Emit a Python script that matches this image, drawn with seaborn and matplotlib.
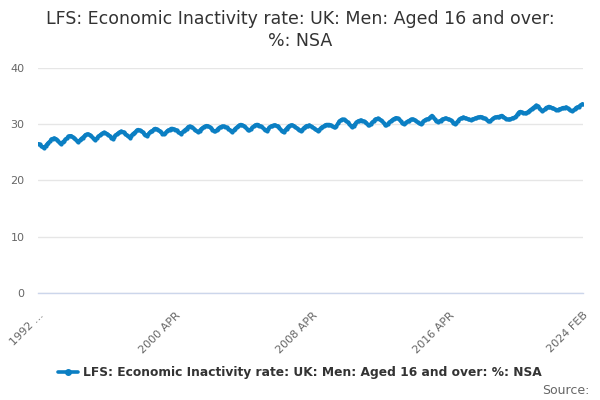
import pandas as pd
import matplotlib
matplotlib.use("Agg")
import matplotlib.pyplot as plt
from matplotlib.lines import Line2D
import seaborn as sns

title = "LFS: Economic Inactivity rate: UK: Men: Aged 16 and over:\n%: NSA"
series_name = "LFS: Economic Inactivity rate: UK: Men: Aged 16 and over: %: NSA"

# monthly values, 1992 APR .. 2024 FEB
rate_1992 = [26.5, 26.4, 26.1, 25.9, 25.8, 26.1, 26.4, 26.7, 26.9]  # APR-DEC
rate_1993 = [27.3, 27.4, 27.5, 27.4, 27.2, 26.9, 26.6, 26.5, 26.8, 27.0, 27.3, 27.5]
rate_1994 = [27.8, 27.9, 27.9, 27.7, 27.5, 27.3, 27.0, 26.8, 27.1, 27.4, 27.6, 27.8]
rate_1995 = [28.1, 28.2, 28.2, 28.1, 27.9, 27.6, 27.4, 27.2, 27.5, 27.8, 28.0, 28.2]
rate_1996 = [28.4, 28.5, 28.4, 28.3, 28.1, 27.9, 27.6, 27.4, 27.7, 28.0, 28.2, 28.4]
rate_1997 = [28.6, 28.7, 28.6, 28.5, 28.3, 28.0, 27.8, 27.6, 27.9, 28.2, 28.4, 28.6]
rate_1998 = [28.9, 29.0, 28.9, 28.8, 28.6, 28.3, 28.1, 27.9, 28.2, 28.5, 28.7, 28.8]
rate_1999 = [29.1, 29.2, 29.1, 28.9, 28.8, 28.5, 28.3, 28.2, 28.4, 28.7, 28.9, 29.0]
rate_2000 = [29.2, 29.2, 29.1, 29.0, 28.9, 28.6, 28.4, 28.3, 28.5, 28.8, 29.0, 29.2]
rate_2001 = [29.5, 29.6, 29.5, 29.4, 29.2, 28.9, 28.7, 28.6, 28.8, 29.1, 29.3, 29.5]
rate_2002 = [29.6, 29.7, 29.6, 29.5, 29.3, 29.0, 28.8, 28.7, 28.9, 29.2, 29.4, 29.5]
rate_2003 = [29.6, 29.6, 29.5, 29.4, 29.2, 29.0, 28.8, 28.6, 28.9, 29.2, 29.4, 29.6]
rate_2004 = [29.8, 29.9, 29.8, 29.7, 29.5, 29.2, 29.0, 28.9, 29.1, 29.4, 29.6, 29.8]
rate_2005 = [29.9, 29.9, 29.7, 29.6, 29.4, 29.2, 29.0, 28.8, 29.1, 29.4, 29.6, 29.7]
rate_2006 = [29.8, 29.8, 29.7, 29.6, 29.3, 29.0, 28.7, 28.5, 28.9, 29.2, 29.5, 29.7]
rate_2007 = [29.8, 29.8, 29.7, 29.5, 29.3, 29.1, 28.9, 28.8, 29.0, 29.3, 29.5, 29.7]
rate_2008 = [29.7, 29.8, 29.6, 29.5, 29.3, 29.1, 28.9, 28.8, 29.0, 29.3, 29.5, 29.6]
rate_2009 = [29.8, 29.9, 29.9, 29.9, 29.8, 29.6, 29.5, 29.4, 29.7, 30.1, 30.5, 30.7]
rate_2010 = [30.8, 30.8, 30.7, 30.5, 30.3, 30.0, 29.7, 29.5, 29.7, 30.0, 30.3, 30.5]
rate_2011 = [30.6, 30.7, 30.6, 30.5, 30.4, 30.2, 29.9, 29.8, 30.0, 30.3, 30.5, 30.8]
rate_2012 = [30.9, 31.0, 30.9, 30.7, 30.5, 30.2, 29.9, 29.8, 30.0, 30.3, 30.5, 30.7]
rate_2013 = [30.9, 31.0, 31.1, 31.0, 30.8, 30.5, 30.2, 30.0, 30.1, 30.3, 30.5, 30.6]
rate_2014 = [30.8, 30.8, 30.8, 30.7, 30.5, 30.3, 30.1, 30.0, 30.2, 30.5, 30.7, 30.8]
rate_2015 = [30.9, 31.0, 31.3, 31.5, 31.2, 30.8, 30.5, 30.4, 30.5, 30.6, 30.8, 30.9]
rate_2016 = [31.0, 31.0, 30.9, 30.8, 30.7, 30.5, 30.2, 30.0, 30.2, 30.5, 30.8, 31.0]
rate_2017 = [31.1, 31.2, 31.1, 31.0, 30.9, 30.8, 30.7, 30.8, 30.9, 31.0, 31.1, 31.2]
rate_2018 = [31.2, 31.3, 31.2, 31.1, 31.0, 30.8, 30.6, 30.5, 30.6, 30.8, 31.0, 31.2]
rate_2019 = [31.2, 31.3, 31.3, 31.4, 31.5, 31.3, 31.1, 30.9, 30.8, 30.8, 30.9, 31.0]
rate_2020 = [31.1, 31.2, 31.4, 31.8, 32.1, 32.2, 32.1, 31.9, 31.9, 32.0, 32.1, 32.3]
rate_2021 = [32.5, 32.7, 32.9, 33.1, 33.3, 33.2, 32.9, 32.6, 32.3, 32.4, 32.6, 32.9]
rate_2022 = [33.0, 33.1, 33.0, 32.9, 32.8, 32.6, 32.5, 32.5, 32.6, 32.7, 32.8, 32.9]
rate_2023 = [32.9, 33.0, 32.8, 32.6, 32.4, 32.3, 32.4, 32.6, 32.9, 33.0, 33.1, 33.3]
rate_2024 = [33.5, 33.6]  # JAN-FEB

y_ticks = [0, 10, 20, 30, 40]
label_periods = ["1992 APR", "2000 APR", "2008 APR", "2016 APR", "2024 FEB"]
label_texts = ["1992 ...", "2000 APR", "2008 APR", "2016 APR", "2024 FEB"]

values = (rate_1992 + rate_1993 + rate_1994 + rate_1995 + rate_1996 + rate_1997
          + rate_1998 + rate_1999 + rate_2000 + rate_2001 + rate_2002 + rate_2003
          + rate_2004 + rate_2005 + rate_2006 + rate_2007 + rate_2008 + rate_2009
          + rate_2010 + rate_2011 + rate_2012 + rate_2013 + rate_2014 + rate_2015
          + rate_2016 + rate_2017 + rate_2018 + rate_2019 + rate_2020 + rate_2021
          + rate_2022 + rate_2023 + rate_2024)

periods = pd.period_range("1992-04", "2024-02", freq="M")
period_names = [f"{p.year} {p.strftime('%b').upper()}" for p in periods]
df = pd.DataFrame({"period": period_names, "value": values})
df["pos"] = range(len(df))

sns.set_style("white")
plt.rcParams["font.family"] = ["DejaVu Sans"]

blue = "#0b7fc3"
fig = plt.figure(figsize=(6, 4), dpi=100)
ax = fig.add_axes([0.064, 0.267, 0.908, 0.564])

sns.lineplot(data=df, x="pos", y="value", ax=ax, color=blue, linewidth=2.6,
             marker="o", markersize=3, markeredgewidth=0)

ax.set_xlim(0, len(df) - 1)
ax.set_ylim(0, 40)
ax.set_yticks(y_ticks)
ax.set_yticklabels([str(t) for t in y_ticks])

# ticks every two years, labels every eight
tick_pos = list(range(0, len(df) - 1, 24)) + [len(df) - 1]
label_pos = {period_names.index(p): t for p, t in zip(label_periods, label_texts)}
ax.set_xticks(tick_pos)
ax.set_xticklabels([label_pos.get(p, "") for p in tick_pos], rotation=45,
                   ha="right", rotation_mode="anchor")

ax.set_xlabel("")
ax.set_ylabel("")
ax.grid(axis="y", color="#e6e6e6", linewidth=1)
ax.grid(axis="x", visible=False)
for side in ["left", "top", "right"]:
    ax.spines[side].set_visible(False)
ax.spines["bottom"].set_color("#ccd6eb")
ax.spines["bottom"].set_linewidth(1)
ax.tick_params(axis="x", length=9, width=1, color="#ccd6eb", labelsize=8,
               labelcolor="#666666", pad=3)
ax.tick_params(axis="y", length=0, labelsize=8, labelcolor="#666666", pad=10)

fig.text(0.5, 0.975, title, ha="center", va="top", fontsize=12.5,
         color="#333333", linespacing=1.25)

handle = Line2D([], [], color=blue, linewidth=2.6, marker="o", markersize=4)
fig.legend([handle], [series_name], loc="center", bbox_to_anchor=(0.5, 0.068),
           frameon=False, prop={"size": 8.8, "weight": "bold"}, handlelength=1.6,
           handletextpad=0.4, labelcolor="#333333")

fig.text(0.983, 0.008, "Source:", ha="right", va="bottom", fontsize=9,
         color="#666666")

fig.savefig("out.png", dpi=100)
